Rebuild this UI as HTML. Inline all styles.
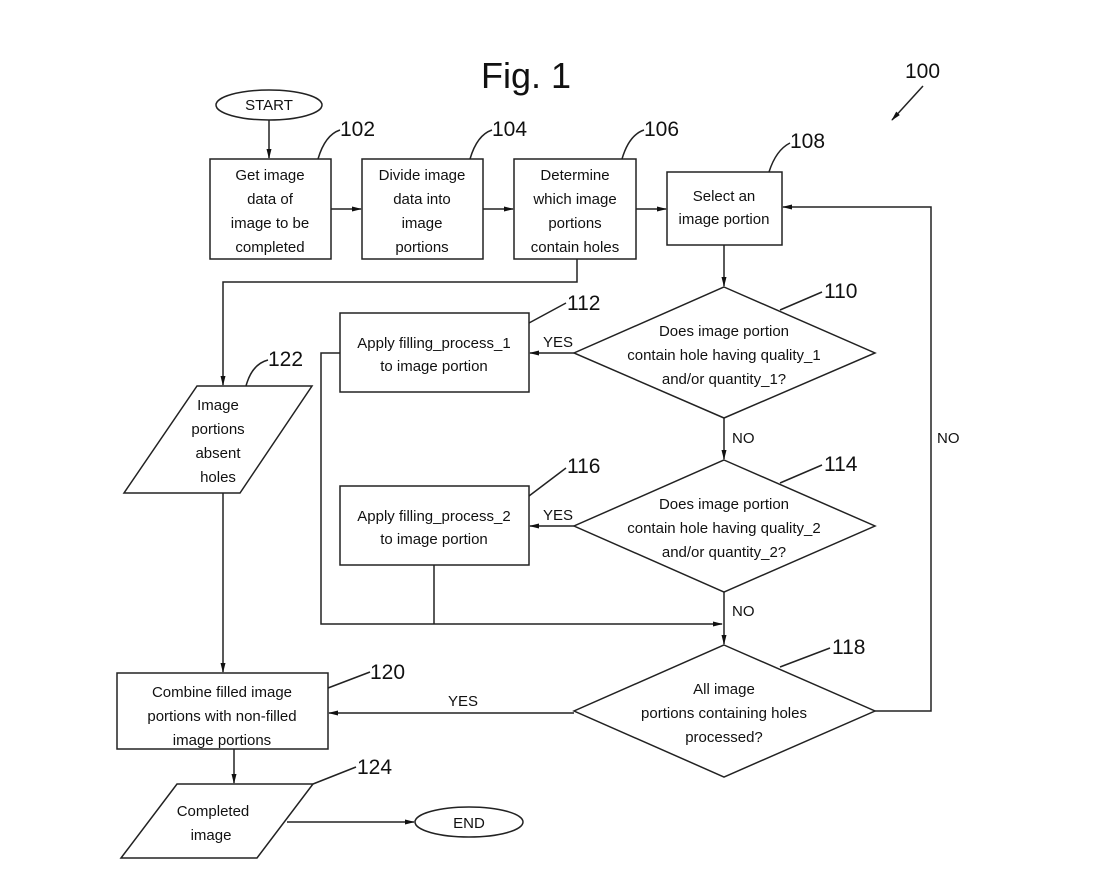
<!DOCTYPE html>
<html><head><meta charset="utf-8"><style>
html,body{margin:0;padding:0;background:#fff;}
svg{display:block;}
text{font-family:"Liberation Sans",sans-serif;font-size:15px;fill:#111;}
.n{font-family:"Liberation Sans",sans-serif;font-size:21px;}
</style></head><body>
<svg width="1100" height="884" viewBox="0 0 1100 884" xmlns="http://www.w3.org/2000/svg">
<defs><marker id="a" markerWidth="10" markerHeight="8" refX="9" refY="4" orient="auto" markerUnits="userSpaceOnUse"><path d="M0,1.5 L10,4 L0,6.5z" fill="#111"/></marker></defs>
<g stroke="#222" stroke-width="1.5" fill="none">
<ellipse cx="269" cy="105" rx="53" ry="15"/>
<line x1="269" y1="120" x2="269" y2="158" marker-end="url(#a)"/>
<rect x="210" y="159" width="121" height="100"/>
<rect x="362" y="159" width="121" height="100"/>
<rect x="514" y="159" width="122" height="100"/>
<rect x="667" y="172" width="115" height="73"/>
<line x1="331" y1="209" x2="361" y2="209" marker-end="url(#a)"/>
<line x1="483" y1="209" x2="513" y2="209" marker-end="url(#a)"/>
<line x1="636" y1="209" x2="666" y2="209" marker-end="url(#a)"/>
<polyline points="577,259 577,282 223,282 223,385" marker-end="url(#a)"/>
<line x1="724" y1="245" x2="724" y2="286" marker-end="url(#a)"/>
<polygon points="724,287 875,353 724,418 574,353"/>
<polygon points="724,460 875,526 724,592 574,526"/>
<polygon points="724,645 875,711 724,777 574,711"/>
<rect x="340" y="313" width="189" height="79"/>
<rect x="340" y="486" width="189" height="79"/>
<line x1="574" y1="353" x2="530" y2="353" marker-end="url(#a)"/>
<line x1="574" y1="526" x2="530" y2="526" marker-end="url(#a)"/>
<line x1="724" y1="418" x2="724" y2="459" marker-end="url(#a)"/>
<line x1="724" y1="592" x2="724" y2="644" marker-end="url(#a)"/>
<polyline points="340,353 321,353 321,624 722,624" marker-end="url(#a)"/>
<line x1="434" y1="565" x2="434" y2="624"/>
<polyline points="875,711 931,711 931,207 783,207" marker-end="url(#a)"/>
<line x1="574" y1="713" x2="329" y2="713" marker-end="url(#a)"/>
<polygon points="197,386 312,386 240,493 124,493"/>
<line x1="223" y1="493" x2="223" y2="672" marker-end="url(#a)"/>
<rect x="117" y="673" width="211" height="76"/>
<line x1="234" y1="749" x2="234" y2="783" marker-end="url(#a)"/>
<polygon points="177,784 313,784 257,858 121,858"/>
<line x1="287" y1="822" x2="414" y2="822" marker-end="url(#a)"/>
<ellipse cx="469" cy="822" rx="54" ry="15"/>
<path d="M318,159 Q325,135 340,130"/>
<path d="M470,159 Q477,135 492,130"/>
<path d="M622,159 Q629,135 644,130"/>
<path d="M769,172 Q776,150 790,143"/>
<path d="M246,386 Q252,364 268,360"/>
<line x1="780" y1="310" x2="822" y2="292"/>
<line x1="529" y1="323" x2="566" y2="303"/>
<line x1="780" y1="483" x2="822" y2="465"/>
<line x1="529" y1="496" x2="566" y2="468"/>
<line x1="780" y1="667" x2="830" y2="648"/>
<line x1="328" y1="688" x2="370" y2="672"/>
<line x1="313" y1="784" x2="356" y2="767"/>
<line x1="923" y1="86" x2="892" y2="120" marker-end="url(#a)"/>
</g>
<text x="526" y="88" text-anchor="middle" style="font-size:36px">Fig. 1</text>
<text class="n" x="905" y="78">100</text>
<text class="n" x="340" y="136">102</text>
<text class="n" x="492" y="136">104</text>
<text class="n" x="644" y="136">106</text>
<text class="n" x="790" y="148">108</text>
<text class="n" x="824" y="298">110</text>
<text class="n" x="567" y="310">112</text>
<text class="n" x="824" y="471">114</text>
<text class="n" x="567" y="473">116</text>
<text class="n" x="832" y="654">118</text>
<text class="n" x="370" y="679">120</text>
<text class="n" x="268" y="366">122</text>
<text class="n" x="357" y="774">124</text>
<g text-anchor="middle">
<text x="269" y="110">START</text>
<text x="270" y="180">Get image</text><text x="270" y="204">data of</text><text x="270" y="228">image to be</text><text x="270" y="252">completed</text>
<text x="422" y="180">Divide image</text><text x="422" y="204">data into</text><text x="422" y="228">image</text><text x="422" y="252">portions</text>
<text x="575" y="180">Determine</text><text x="575" y="204">which image</text><text x="575" y="228">portions</text><text x="575" y="252">contain holes</text>
<text x="724" y="201">Select an</text><text x="724" y="224">image portion</text>
<text x="724" y="336">Does image portion</text><text x="724" y="360">contain hole having quality_1</text><text x="724" y="384">and/or quantity_1?</text>
<text x="724" y="509">Does image portion</text><text x="724" y="533">contain hole having quality_2</text><text x="724" y="557">and/or quantity_2?</text>
<text x="724" y="694">All image</text><text x="724" y="718">portions containing holes</text><text x="724" y="742">processed?</text>
<text x="434" y="348">Apply filling_process_1</text><text x="434" y="371">to image portion</text>
<text x="434" y="521">Apply filling_process_2</text><text x="434" y="544">to image portion</text>
<text x="218" y="410">Image</text><text x="218" y="434">portions</text><text x="218" y="458">absent</text><text x="218" y="482">holes</text>
<text x="222" y="697">Combine filled image</text><text x="222" y="721">portions with non-filled</text><text x="222" y="745">image portions</text>
<text x="213" y="816">Completed</text><text x="211" y="840">image</text>
<text x="469" y="828">END</text>
</g>
<text x="543" y="347">YES</text>
<text x="543" y="520">YES</text>
<text x="732" y="443">NO</text>
<text x="732" y="616">NO</text>
<text x="937" y="443">NO</text>
<text x="448" y="706">YES</text>
</svg>
</body></html>
